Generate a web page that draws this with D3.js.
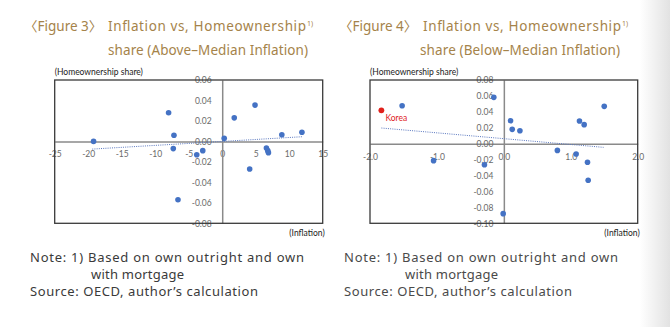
<!DOCTYPE html>
<html><head><meta charset="utf-8">
<script src="https://cdn.jsdelivr.net/npm/d3@7"></script>
<style>body{margin:0;background:#fff}svg{display:block}</style>
</head><body>
<script>
// ---- Figure 3 data (Above-Median Inflation)
const fig3X = [-19.2, -8.0, -7.2, -7.3, -6.6, -3.8, -2.9, 0.3, 1.8, 4.9, 4.1, 6.6, 6.8, 6.9, 8.9, 11.9];
const fig3Y = [0.000, 0.028, 0.006, -0.007, -0.057, -0.013, -0.009, 0.003, 0.023, 0.0355, -0.027, -0.0065, -0.009, -0.011, 0.0065, 0.009];
const fig3TrendX = [-19.4, 12.0];
const fig3TrendY = [-0.0075, 0.0046];
const fig3XTicks = [-25, -20, -15, -10, -5, 0, 5, 10, 15];
const fig3YTicks = [-0.08, -0.06, -0.04, -0.02, 0.00, 0.02, 0.04, 0.06];

// ---- Figure 4 data (Below-Median Inflation)
const fig4X = [-1.52, -1.05, -0.29, -0.15, -0.01, 0.10, 0.125, 0.24, 0.80, 1.08, 1.13, 1.20, 1.25, 1.26, 1.50];
const fig4Y = [0.0477, -0.0213, -0.0264, 0.0582, -0.0879, 0.0289, 0.018, 0.0163, -0.0084, -0.013, 0.0285, 0.0239, -0.0234, -0.046, 0.0469];
const koreaX = [-1.83];
const koreaY = [0.0419];
const fig4TrendX = [-1.83, 1.49];
const fig4TrendY = [0.0197, -0.0046];
const fig4XTicks = [-2.0, -1.0, 0.0, 1.0, 2.0];
const fig4YTicks = [-0.10, -0.08, -0.06, -0.04, -0.02, 0.00, 0.02, 0.04, 0.06, 0.08];

const W = 670, H = 327;
const svg = d3.select("body").append("svg").attr("width", W).attr("height", H);

// page shadow at right edge
const defs = svg.append("defs");
const grad = defs.append("linearGradient").attr("id", "shade").attr("x1", "0").attr("x2", "1");
grad.append("stop").attr("offset", "0").attr("stop-color", "#ffffff");
grad.append("stop").attr("offset", "1").attr("stop-color", "#e2e2e2");
svg.append("rect").attr("x", 640).attr("y", 0).attr("width", 30).attr("height", H).attr("fill", "url(#shade)");

const titleColor = "#a5834a";
const titleFont = "'Noto Sans', 'Noto Sans CJK KR', 'DejaVu Sans', sans-serif";
const chartFont = "Lato, 'Liberation Sans', sans-serif";

function title(xb, xi, xs, num, subText) {
  const g = svg.append("g").attr("font-family", titleFont).attr("font-size", 13.5).attr("fill", titleColor);
  g.append("text").attr("x", xb).attr("y", 31).text("\u3008Figure " + num + "\u3009");
  g.append("text").attr("x", xi).attr("y", 31).attr("textLength", 198).attr("lengthAdjust", "spacing")
    .text("Inflation vs, Homeownership");
  g.append("text").attr("x", xi + 199).attr("y", 25.5).attr("font-size", 7).text("1)");
  g.append("text").attr("x", xs).attr("y", 54.5)
    .attr("textLength", 200).attr("lengthAdjust", "spacing").text(subText);
}
title(24, 108, 108, "3", "share (Above\u2013Median Inflation)");
title(339, 423, 420, "4", "share (Below\u2013Median Inflation)");

function notes(x, fill) {
  const g = svg.append("g").attr("font-family", titleFont).attr("font-size", 13).attr("fill", fill);
  g.append("text").attr("x", x).attr("y", 262).attr("textLength", 274).attr("lengthAdjust", "spacing")
    .text("Note: 1) Based on own outright and own");
  g.append("text").attr("x", x + 61).attr("y", 279).attr("textLength", 93).attr("lengthAdjust", "spacing")
    .text("with mortgage");
  g.append("text").attr("x", x).attr("y", 296).attr("textLength", 228).attr("lengthAdjust", "spacing")
    .text("Source: OECD, author\u2019s calculation");
}
notes(30, "#3a3a3a");
notes(344, "#4a4a4a");

const fmt = d => (d < -1e-9 ? "-" : "") + d3.format(".2f")(Math.abs(d));
const fmt1 = d => (d < -1e-9 ? "-" : "") + d3.format(".1f")(Math.abs(d));

function chart(o) {
  const x = d3.scaleLinear().domain(o.xDom).range([o.left, o.right]);
  const y = d3.scaleLinear().domain(o.yDom).range([o.bottom, o.top]);
  const g = svg.append("g");

  const ax = g.append("g").attr("transform", `translate(0,${y(0)})`)
    .call(d3.axisBottom(x).tickValues(o.xTicks).tickFormat(o.xFmt).tickSizeInner(0).tickSizeOuter(0).tickPadding(10));
  const ay = g.append("g").attr("transform", `translate(${x(0)},0)`)
    .call(d3.axisLeft(y).tickValues(o.yTicks).tickFormat(fmt).tickSizeInner(0).tickSizeOuter(0).tickPadding(10.5));
  [ax, ay].forEach(a => {
    a.select(".domain").attr("stroke", "#8a8a8a").attr("stroke-width", 1.5);
    a.selectAll("text").attr("font-family", chartFont).attr("font-size", 8.5).attr("fill", "#6a6a6a");
  });
  ay.selectAll("text").attr("dy", "0.35em");

  g.append("rect").attr("x", o.left).attr("y", o.top).attr("width", o.right - o.left).attr("height", o.bottom - o.top)
    .attr("fill", "none").attr("stroke", "#3a3a3a").attr("stroke-width", 1.3);

  g.append("line").attr("x1", x(o.tx[0])).attr("x2", x(o.tx[1])).attr("y1", y(o.ty[0])).attr("y2", y(o.ty[1]))
    .attr("stroke", "#5a78c0").attr("stroke-width", 1).attr("stroke-dasharray", "1,1.2");

  g.selectAll("circle.p").data(o.xs.map((d, i) => [d, o.ys[i]])).join("circle").attr("class", "p")
    .attr("cx", d => x(d[0])).attr("cy", d => y(d[1])).attr("r", 2.8).attr("fill", "#4472C4");

  g.append("text").attr("x", o.left).attr("y", 75).attr("font-family", chartFont).attr("font-size", 8.5)
    .attr("fill", "#222").text("(Homeownership share)");
  g.append("text").attr("x", o.right + 2).attr("y", 236).attr("text-anchor", "end").attr("font-family", chartFont)
    .attr("font-size", 8.5).attr("fill", "#222").text("(Inflation)");
  return {x, y, g};
}

chart({xDom: [-25, 15], yDom: [-0.08, 0.06], left: 54.7, right: 322.7, top: 80, bottom: 223.3,
  xTicks: fig3XTicks, yTicks: fig3YTicks, xFmt: d => (d < 0 ? "-" : "") + Math.abs(d),
  xs: fig3X, ys: fig3Y, tx: fig3TrendX, ty: fig3TrendY});

const c4 = chart({xDom: [-2, 2], yDom: [-0.10, 0.08], left: 370, right: 637.7, top: 80, bottom: 223.3,
  xTicks: fig4XTicks, yTicks: fig4YTicks, xFmt: fmt1,
  xs: fig4X, ys: fig4Y, tx: fig4TrendX, ty: fig4TrendY});

c4.g.selectAll("circle.k").data(koreaX.map((d, i) => [d, koreaY[i]])).join("circle").attr("class", "k")
  .attr("cx", d => c4.x(d[0])).attr("cy", d => c4.y(d[1])).attr("r", 2.9).attr("fill", "#E0201B");
c4.g.append("text").attr("x", c4.x(koreaX[0]) + 4).attr("y", c4.y(koreaY[0]) + 11)
  .attr("font-family", chartFont).attr("font-size", 8.5).attr("fill", "#E0201B").text("Korea");
</script>
</body></html>
